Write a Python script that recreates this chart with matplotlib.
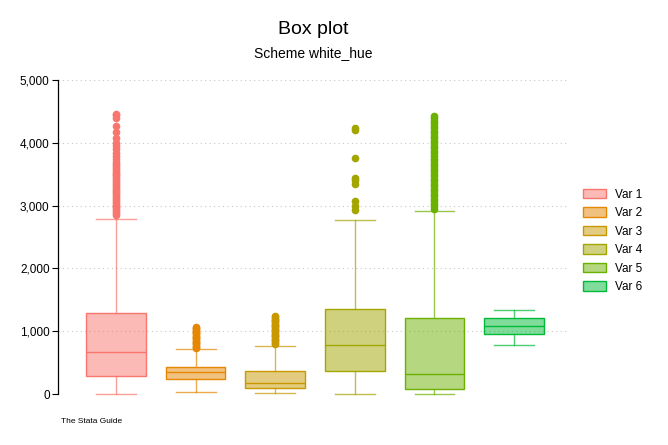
import matplotlib.pyplot as plt
from matplotlib.patches import Patch

plt.rcParams['font.family'] = ['Liberation Sans', 'DejaVu Sans']

labels = ["Var 1", "Var 2", "Var 3", "Var 4", "Var 5", "Var 6"]
colors = ["#F8766D", "#E58700", "#C99800", "#A3A500", "#6BB100", "#00BA38"]

# five-number summaries
whislo = [0, 26, 10, 0, 0, 775]
q1 = [287, 244, 96, 360, 85, 961]
med = [670, 350, 175, 786, 319, 1078]
q3 = [1296, 430, 371, 1355, 1212, 1206]
whishi = [2790, 717, 770, 2768, 2922, 1339]

var1_out = [2850, 2880, 2910, 2940, 2970, 3000, 3030, 3060, 3090, 3120, 3150,
            3180, 3210, 3240, 3270, 3300, 3330, 3360, 3390, 3420, 3450, 3480,
            3510, 3540, 3570, 3600, 3630, 3660, 3700, 3740, 3790, 3840, 3900,
            3950, 4000, 4070, 4170, 4270, 4400, 4440, 4460]
var2_out = [730, 750, 770, 790, 810, 830, 850, 870, 890, 910, 930, 950, 970,
            990, 1010, 1030, 1050, 1060]
var3_out = [800, 820, 840, 860, 880, 900, 920, 940, 960, 980, 1000, 1020,
            1040, 1060, 1080, 1100, 1120, 1140, 1160, 1180, 1200, 1220, 1240]
var4_out = [2930, 2990, 3080, 3350, 3400, 3440, 3760, 4210, 4240]
var5_out = [2950, 2990, 3030, 3070, 3110, 3150, 3190, 3230, 3270, 3310, 3350,
            3390, 3430, 3470, 3510, 3550, 3590, 3630, 3670, 3710, 3750, 3790,
            3830, 3870, 3910, 3950, 3990, 4030, 4070, 4110, 4150, 4190, 4230,
            4270, 4310, 4350, 4390, 4430]
var6_out = []
outliers = [var1_out, var2_out, var3_out, var4_out, var5_out, var6_out]

fig = plt.figure(figsize=(6.68, 4.45), dpi=100)
ax = fig.add_axes([0.0868, 0.1146, 0.765, 0.7056])

for i in range(6):
    stats = [{"whislo": whislo[i], "q1": q1[i], "med": med[i], "q3": q3[i],
              "whishi": whishi[i], "fliers": outliers[i], "label": labels[i]}]
    c = colors[i]
    ax.bxp(stats, positions=[i + 1], widths=0.75, capwidths=0.5,
           patch_artist=True, manage_ticks=False,
           boxprops=dict(facecolor=c + "80", edgecolor=c, linewidth=1.0),
           medianprops=dict(color=c, linewidth=1.0),
           whiskerprops=dict(color=c, alpha=0.7, linewidth=1.0),
           capprops=dict(color=c, alpha=0.7, linewidth=1.0),
           flierprops=dict(marker="o", markerfacecolor=c, markeredgecolor=c,
                           markersize=4.5, linestyle="none"))

ax.set_xlim(0.271, 6.691)
ax.set_ylim(0, 5000)
ax.set_yticks([0, 1000, 2000, 3000, 4000, 5000])
ax.set_yticklabels(["0", "1,000", "2,000", "3,000", "4,000", "5,000"], fontsize=8.5)
ax.set_xticks([])
ax.yaxis.grid(True, linestyle=(0, (1, 3)), color="#c8c8c8", linewidth=0.8)
ax.set_axisbelow(True)
for s in ["top", "right", "bottom"]:
    ax.spines[s].set_visible(False)
ax.spines["left"].set_linewidth(0.9)
ax.tick_params(axis="y", length=4, width=0.8, pad=2)
for art in ax.get_children():
    try:
        art.set_clip_on(False)
    except Exception:
        pass

fig.text(0.469, 0.933, "Box plot", ha="center", va="center", fontsize=14)
fig.text(0.469, 0.881, "Scheme white_hue", ha="center", va="center", fontsize=10)
fig.text(0.091, 0.053, "The Stata Guide", ha="left", va="center", fontsize=6)

handles = [Patch(facecolor=c + "80", edgecolor=c, linewidth=1.0) for c in colors]
fig.legend(handles, labels, loc="upper left", bbox_to_anchor=(0.8575, 0.6),
           frameon=False, fontsize=8.5, handlelength=1.95, handleheight=0.9,
           labelspacing=0.55, handletextpad=0.75)

fig.savefig("out.png", dpi=100)
